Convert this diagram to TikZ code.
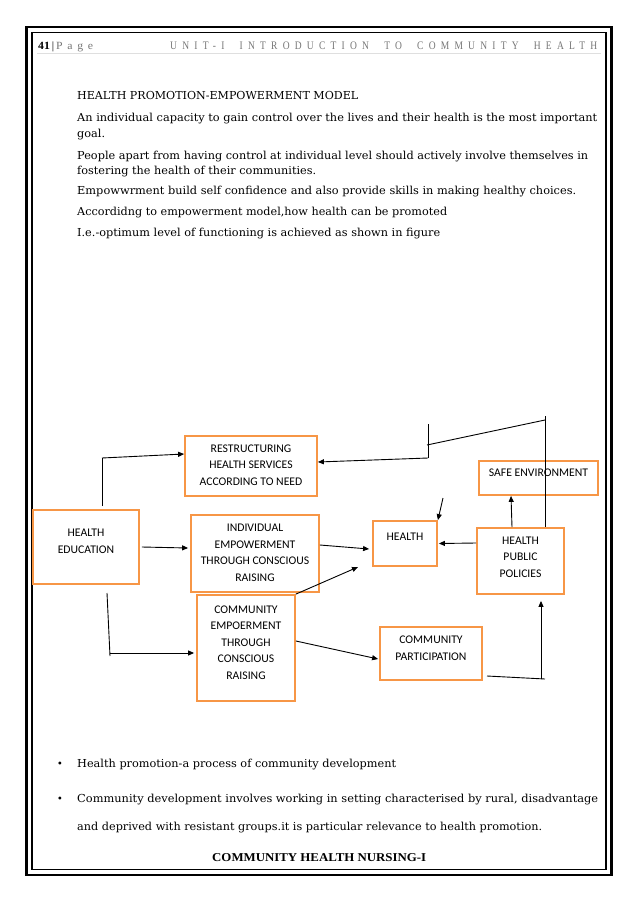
\documentclass[tikz,border=0pt]{standalone}
\usepackage{fontspec}
\usepackage{graphicx}
\setmainfont{Liberation Serif}
\newfontfamily\bodyfont{DejaVu Serif}
\newfontfamily\boxfont{Carlito}
\usetikzlibrary{arrows.meta,calc}
\definecolor{boxorange}{HTML}{F79646}
\definecolor{hdrgray}{HTML}{767676}
\newcommand{\tline}[5]{\node[anchor=base west, inner sep=0pt] (#1) at (#2,#3) {\resizebox{#4pt}{\height}{#5}};}
\begin{document}
\begin{tikzpicture}[x=1pt,y=-1pt,
  box/.style={draw=boxorange, line width=1.8pt, rectangle, inner sep=0pt},
  lbl/.style={font=\boxfont\fontsize{11.7}{16.5}\selectfont, align=center, inner sep=0pt},
  ln/.style={line width=0.9pt, black},
  arr/.style={line width=0.9pt, black, -{Triangle[length=6pt,width=5pt]}}]
\useasboundingbox (0,0) rectangle (638,902);
\fill[white] (0,0) rectangle (638,902);
% page border
\draw[line width=2.6pt] (26.5,27) rectangle (611.5,875);
\draw[line width=1.3pt] (32,32.5) rectangle (606,869.5);
% header
\node[anchor=base west, inner sep=0pt] (pg) at (38,49) {\resizebox{55pt}{\height}{\fontsize{11}{12}\selectfont{\bfseries 41}\,|\,{\color{hdrgray}\addfontfeatures{LetterSpace=40}Page}}};
\node[anchor=base west, inner sep=0pt] (unit) at (170,49) {\resizebox{427pt}{\height}{\fontsize{11.5}{12}\selectfont\color{hdrgray}\addfontfeatures{LetterSpace=55}UNIT-I\ \ INTRODUCTION\ \ TO\ \ COMMUNITY\ \ HEALTH}};
\draw[gray!25, line width=0.8pt] (37,53) -- (601,53);
% body text
\bodyfont\fontsize{11}{13}\selectfont
\tline{t1}{77}{99.5}{281}{HEALTH PROMOTION-EMPOWERMENT MODEL}
\tline{t2}{77}{121.5}{520}{An individual capacity to gain control over the lives and their health is the most important}
\tline{t3}{77}{137}{28}{goal.}
\tline{t4}{77}{159}{511}{People apart from having control at individual level should actively involve themselves in}
\tline{t5}{77}{174.5}{239}{fostering the health of their communities.}
\tline{t6}{77}{194.5}{499}{Empowwrment build self confidence and also provide skills in making healthy choices.}
\tline{t7}{77}{215}{370}{Accordidng to empowerment model,how health can be promoted}
\tline{t8}{77}{236}{363}{I.e.-optimum level of functioning is achieved as shown in figure}
% boxes
\node[box, minimum width=132pt, minimum height=60pt, label={[lbl,yshift=1pt]center:{RESTRUCTURING\\HEALTH SERVICES\\ACCORDING TO NEED}}] (rest) at (251,466) {};
\node[box, minimum width=106pt, minimum height=74pt, label={[lbl,yshift=5.5pt]center:{HEALTH\\EDUCATION}}] (he) at (86,547) {};
\node[box, minimum width=128pt, minimum height=77pt, label={[lbl,yshift=0.5pt]center:{INDIVIDUAL\\EMPOWERMENT\\THROUGH CONSCIOUS\\RAISING}}] (ie) at (255,553.5) {};
\node[box, minimum width=64pt, minimum height=45pt, label={[lbl,yshift=6.5pt]center:{HEALTH}}] (health) at (405,543.5) {};
\node[box, minimum width=119pt, minimum height=34pt, label={[lbl,yshift=5pt]center:{SAFE ENVIRONMENT}}] (safe) at (538.5,478) {};
\node[box, minimum width=87pt, minimum height=66pt, label={[lbl,yshift=4pt]center:{HEALTH\\PUBLIC\\POLICIES}}] (hpp) at (520.5,561) {};
\node[box, minimum width=98pt, minimum height=106pt, label={[lbl,yshift=5.5pt]center:{COMMUNITY\\EMPOERMENT\\THROUGH\\CONSCIOUS\\RAISING}}] (ce) at (246,648) {};
\node[box, minimum width=102pt, minimum height=53pt, label={[lbl,yshift=5.5pt]center:{COMMUNITY\\PARTICIPATION}}] (cp) at (431,653.5) {};
% free points
\coordinate (ka1) at (102,506);
\coordinate (ka2) at (102,458);
\coordinate (kb1) at (428,424);
\coordinate (kb2) at (428,458);
\coordinate (kb3) at (427,445);
\coordinate (kb4) at (545,420);
\coordinate (kb5) at (545,416);
\coordinate (kc1) at (443,498);
\coordinate (kd1) at (358,567);
\coordinate (ke1) at (107,593);
\coordinate (ke2) at (110,656);
\coordinate (ke3) at (110,653);
\coordinate (kf1) at (487,676);
\coordinate (kf2) at (545,679);
\coordinate (kf3) at (541,679);
% connectors
\draw[ln] (ka1) -- (ka2);
\draw[arr] (ka2) -- ([yshift=12pt]rest.west);
\draw[ln] (kb1) -- (kb2);
\draw[arr] (kb2) -- ([yshift=4pt]rest.east);
\draw[ln] (kb3) -- (kb4);
\draw[ln] (kb5) -- (kb5 |- hpp.north);
\draw[arr] (kc1) -- (health.north east);
\draw[arr] ([xshift=2pt]he.east) -- ([xshift=-2pt,yshift=5.5pt]ie.west);
\draw[arr] ([yshift=8.5pt]ie.east) -- ([xshift=-3pt,yshift=-5.5pt]health.west);
\draw[arr] (ce.north east) -- (kd1);
\draw[arr] ([yshift=18pt]hpp.west) -- ([xshift=1pt]health.east);
\draw[arr] ([xshift=-8.5pt]hpp.north) -- ([xshift=-27.5pt]safe.south);
\draw[ln] (ke1) -- (ke2);
\draw[arr] (ke3) -- ([xshift=-2pt,yshift=-5pt]ce.west);
\draw[arr] ([yshift=7pt]ce.east) -- ([xshift=-1pt,yshift=-5.5pt]cp.west);
\draw[ln] (kf1) -- (kf2);
\draw[arr] (kf3) -- ([xshift=20.5pt,yshift=-6pt]hpp.south);
% bottom text
\node[anchor=base, inner sep=0pt, font=\rmfamily\fontsize{12}{14}\selectfont] (bu1) at (60,767) {\textbullet};
\node[anchor=base, inner sep=0pt, font=\rmfamily\fontsize{12}{14}\selectfont] (bu2) at (60,802) {\textbullet};
\tline{s1}{77}{767}{319}{Health promotion-a process of community development}
\tline{s2}{77}{802}{521}{Community development involves working in setting characterised by rural, disadvantage}
\tline{s3}{77}{830.5}{465}{and deprived with resistant groups.it is particular relevance to health promotion.}
\node[anchor=base west, inner sep=0pt] (foot) at (212,861.5) {\resizebox{214pt}{\height}{\rmfamily\bfseries\fontsize{12}{14}\selectfont COMMUNITY HEALTH NURSING-I}};
\end{tikzpicture}
\end{document}
